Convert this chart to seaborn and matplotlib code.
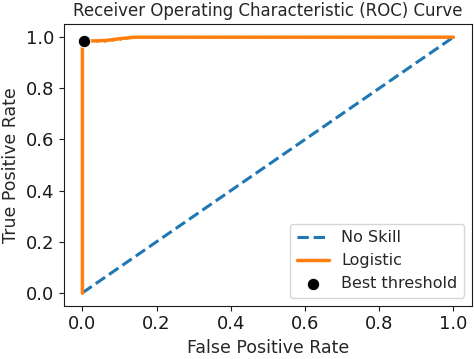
import matplotlib
matplotlib.use("Agg")
import matplotlib.pyplot as plt
import seaborn as sns

# no-skill diagonal
ns_fpr = [0.0, 1.0]
ns_tpr = [0.0, 1.0]

# logistic ROC points
lr_fpr = [0.0, 0.0, 0.0, 0.0, 0.002, 0.004, 0.01, 0.02, 0.04, 0.06, 0.08, 0.10, 0.12, 0.14,
          0.20, 0.25, 0.30, 0.35, 0.40, 0.45, 0.50, 0.55, 0.60, 0.65, 0.70, 0.75, 0.80,
          0.85, 0.90, 0.95, 1.0]
lr_tpr = [0.0, 0.35, 0.70, 0.975, 0.982, 0.985, 0.985, 0.985, 0.986, 0.987, 0.990, 0.994,
          0.997, 1.0, 1.0, 1.0, 1.0, 1.0, 1.0, 1.0, 1.0, 1.0, 1.0, 1.0, 1.0, 1.0, 1.0,
          1.0, 1.0, 1.0, 1.0]

best_fpr = [0.003]
best_tpr = [0.985]

sns.set_style("ticks", {"axes.edgecolor": "0.1", "xtick.color": "0.1", "ytick.color": "0.1"})
plt.rcParams['font.family'] = ['DejaVu Sans']

fig, ax = plt.subplots(figsize=(4.74, 3.59), dpi=100)

sns.lineplot(x=ns_fpr, y=ns_tpr, ax=ax, linestyle='--', linewidth=2.2,
             color='#1f77b4', label='No Skill')
sns.lineplot(x=lr_fpr, y=lr_tpr, ax=ax, marker='.', markersize=4, linewidth=2.5,
             color='#ff7f0e', label='Logistic', sort=False, estimator=None,
             markeredgewidth=0)
sns.scatterplot(x=best_fpr, y=best_tpr, ax=ax, s=80, color='black', label='Best threshold',
                zorder=5)

ax.set_title('Receiver Operating Characteristic (ROC) Curve', fontsize=12)
ax.set_xlabel('False Positive Rate', fontsize=12.5)
ax.set_ylabel('True Positive Rate', fontsize=12.5)
ax.set_xticks([0.0, 0.2, 0.4, 0.6, 0.8, 1.0])
ax.set_yticks([0.0, 0.2, 0.4, 0.6, 0.8, 1.0])
ax.tick_params(labelsize=13)
ax.legend(loc='lower right', fontsize=11.5)

plt.tight_layout(pad=0.15)
plt.savefig('out.png', dpi=100)
plt.close()
